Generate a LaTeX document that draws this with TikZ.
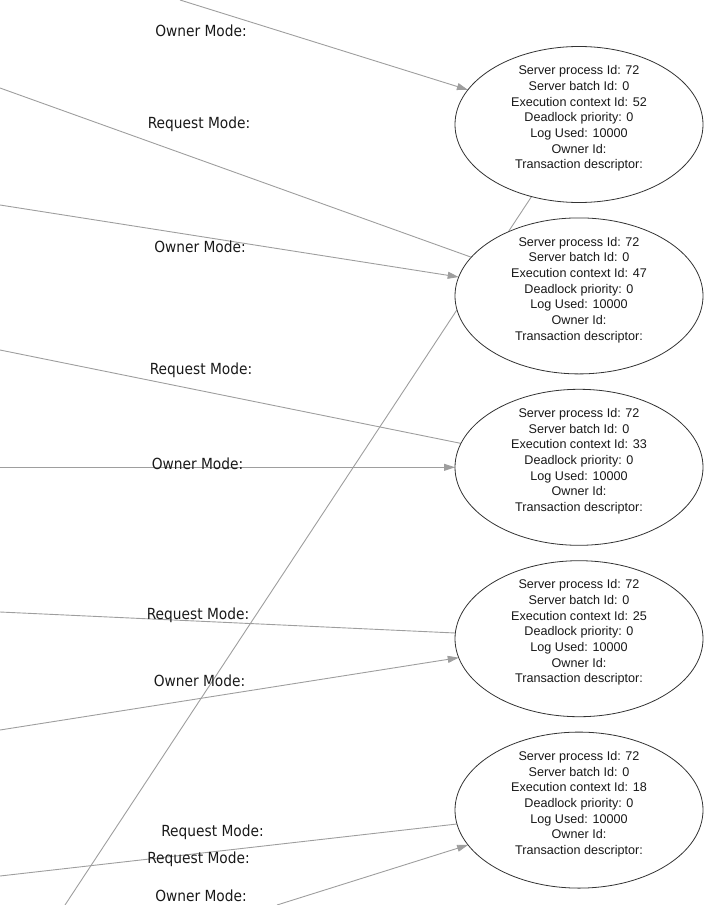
\documentclass[tikz,border=0pt]{standalone}
\usepackage{fontspec}
\setmainfont{Liberation Sans}
\newfontfamily\lblfont{DejaVu Sans Condensed}
\usetikzlibrary{arrows.meta,shapes.geometric,backgrounds}
\begin{document}
\begin{tikzpicture}[x=1pt,y=-1pt,
  proc/.style={ellipse,draw=black!80,fill=white,line width=0.8pt,minimum width=248pt,minimum height=156pt,inner sep=0pt,outer sep=0pt},
  ptext/.style={align=center,font=\fontsize{12.6}{15.67}\selectfont,text=black!90,inner sep=0pt},
  edgeln/.style={draw=black!38,line width=0.9pt},
  arr/.style={edgeln,-{Triangle[length=11pt,width=7pt]}},
  lbl/.style={font=\lblfont\fontsize{15.3}{17}\selectfont,anchor=base,text=black!90,inner sep=0pt}]
\useasboundingbox (0,0) rectangle (720,905);
% process ellipses
\node[proc] (e1) at (579,124.5) {};
\node[proc] (e2) at (579,295.9) {};
\node[proc] (e3) at (579,467.3) {};
\node[proc] (e4) at (579,638.7) {};
\node[proc] (e5) at (579,810.1) {};
\node[ptext] (t1) at ([yshift=6pt]e1.center) {Server process Id: 72\\Server batch Id: 0\\Execution context Id: 52\\Deadlock priority: 0\\Log Used: 10000\\Owner Id:\\Transaction descriptor:};
\node[ptext] (t2) at ([yshift=6pt]e2.center) {Server process Id: 72\\Server batch Id: 0\\Execution context Id: 47\\Deadlock priority: 0\\Log Used: 10000\\Owner Id:\\Transaction descriptor:};
\node[ptext] (t3) at ([yshift=6pt]e3.center) {Server process Id: 72\\Server batch Id: 0\\Execution context Id: 33\\Deadlock priority: 0\\Log Used: 10000\\Owner Id:\\Transaction descriptor:};
\node[ptext] (t4) at ([yshift=6pt]e4.center) {Server process Id: 72\\Server batch Id: 0\\Execution context Id: 25\\Deadlock priority: 0\\Log Used: 10000\\Owner Id:\\Transaction descriptor:};
\node[ptext] (t5) at ([yshift=6pt]e5.center) {Server process Id: 72\\Server batch Id: 0\\Execution context Id: 18\\Deadlock priority: 0\\Log Used: 10000\\Owner Id:\\Transaction descriptor:};
% free ends of connectors
\coordinate (a1) at (180,0);
\coordinate (r1) at (0,88);
\coordinate (a2) at (0,205);
\coordinate (r2) at (0,350);
\coordinate (a3) at (0,467.3);
\coordinate (r3) at (0,612);
\coordinate (a4) at (0,730);
\coordinate (r4) at (0,876);
\coordinate (a5) at (277,905);
\coordinate (r5) at (65,905);
\begin{scope}[on background layer]
\draw[arr] (a1) -- (e1);
\draw[edgeln] (e2) -- (r1);
\draw[arr] (a2) -- (e2);
\draw[edgeln] (e3) -- (r2);
\draw[arr] (a3) -- (e3);
\draw[edgeln] (e4) -- (r3);
\draw[arr] (a4) -- (e4);
\draw[edgeln] (e5) -- (r4);
\draw[arr] (a5) -- (e5);
\draw[edgeln] (e1) -- (r5);
\end{scope}
% labels
\node[lbl] (l1) at (201,36) {Owner Mode:};
\node[lbl] (l2) at (199,128) {Request Mode:};
\node[lbl] (l3) at (200,252) {Owner Mode:};
\node[lbl] (l4) at (201,374) {Request Mode:};
\node[lbl] (l5) at (197.5,469) {Owner Mode:};
\node[lbl] (l6) at (198,619) {Request Mode:};
\node[lbl] (l7) at (199.5,686) {Owner Mode:};
\node[lbl] (l8) at (212.5,836) {Request Mode:};
\node[lbl] (l9) at (198.5,863) {Request Mode:};
\node[lbl] (l10) at (201,901) {Owner Mode:};
\end{tikzpicture}
\end{document}
